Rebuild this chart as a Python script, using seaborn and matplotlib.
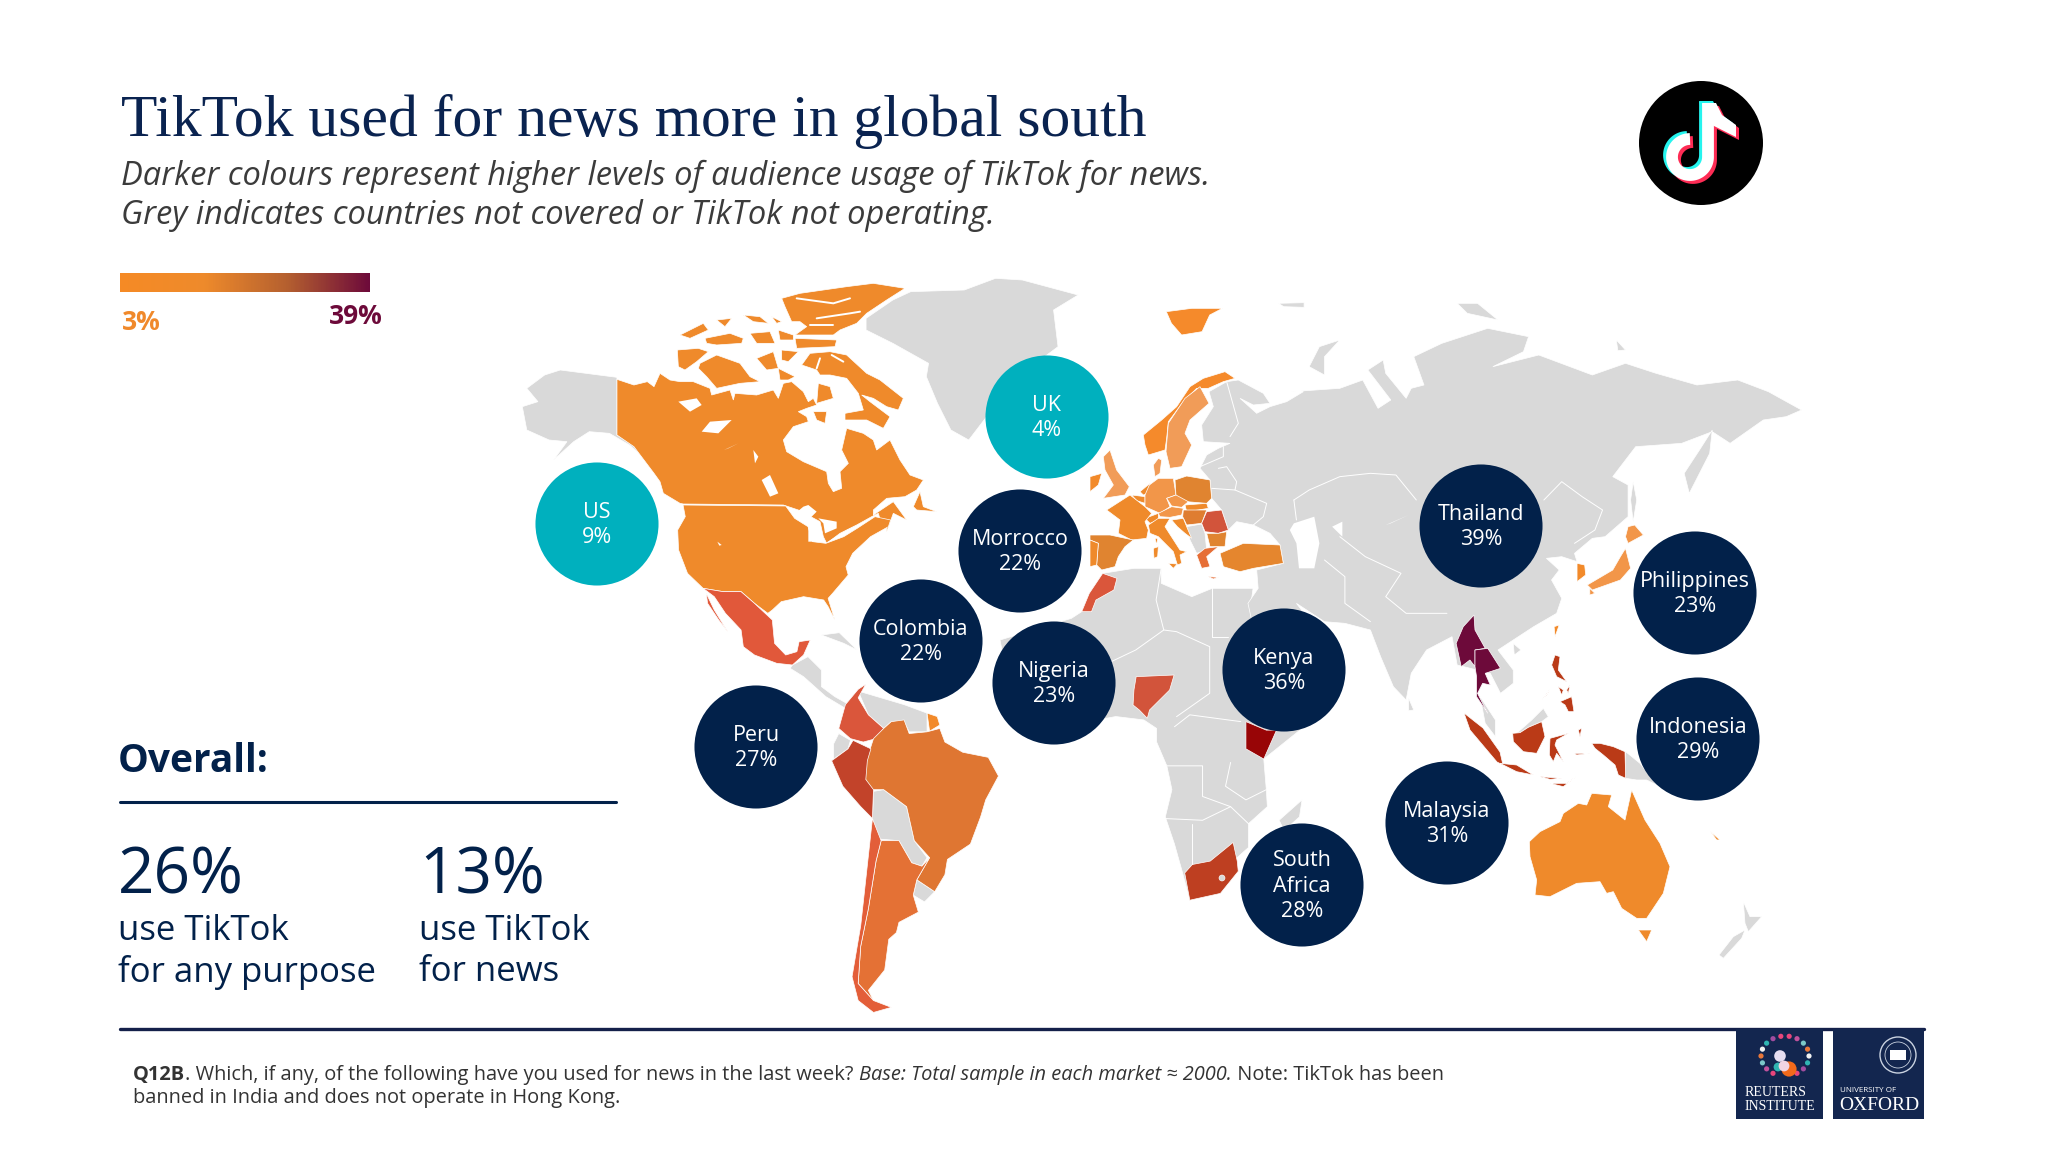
import matplotlib
matplotlib.use("Agg")
import matplotlib.pyplot as plt
from matplotlib.colors import LinearSegmentedColormap
from matplotlib.patches import Circle, Rectangle
import numpy as np
import pandas as pd
import seaborn as sns

sns.set_theme(style="white")
plt.rcParams["font.family"] = ["Open Sans", "DejaVu Sans"]

NAVY = "#02214A"
TEAL = "#00B0BE"
GREY = "#D9D9D9"

# labelled markets
markets = ["US", "UK", "Morrocco", "Colombia", "Nigeria", "Peru", "Kenya",
           "Thailand", "Philippines", "Indonesia", "Malaysia", "South\nAfrica"]
shares = [9, 4, 22, 22, 23, 27, 36, 39, 23, 29, 31, 28]
bubble_colour = [TEAL, TEAL] + [NAVY] * 10

# bubble layout in pixels
bubble_x = [597, 1047, 1020, 921, 1054, 756, 1284, 1481, 1695, 1698, 1447, 1302]
bubble_y = [524, 417, 551, 641, 683, 747, 670, 526, 593, 739, 823, 885]

# colour levels per country
map_levels = {
    "canada": 9, "usa": 9, "australia": 9, "mexico": 21, "colombia": 22, "peru": 27,
    "brazil": 14, "argentina": 16, "chile": 20, "guiana": 8, "morocco": 22, "nigeria": 23,
    "kenya": 36, "south_africa": 28, "thailand": 39, "indonesia": 29, "philippines": 29,
    "uk": 4, "ireland": 8, "france": 9, "germany": 5, "poland": 12, "spain": 12,
    "portugal": 9, "italy": 9, "norway": 7, "sweden": 4, "romania": 23, "bulgaria": 12,
    "greece": 17, "turkey": 11, "croatia": 9, "hungary": 13, "slovakia": 9, "czech": 5, "austria": 5,
    "switzerland": 9, "netherlands": 9, "belgium": 9, "denmark": 4, "japan": 5, "korea": 8, "taiwan": 8,
}
level_nodes = [3, 4, 7, 9, 12, 14, 17, 21, 23, 27, 29, 36, 39]
level_colours = ["#F19C58", "#F19C58", "#F58A2A", "#EF8A2B", "#E08430", "#DF7632", "#E66E36",
                 "#E2583A", "#D2543B", "#C2432A", "#BA3A17", "#990505", "#6D0A3A"]
level_map = LinearSegmentedColormap.from_list(
    "levels", [((n - 3) / 36, c) for n, c in zip(level_nodes, level_colours)])

# legend ramp
ramp_low, ramp_high = 3, 39
ramp_colours = ["#F58A25", "#EE8A2B", "#B5602F", "#6D0A3A"]


# the outlines were traced on crops of the slide, one converter per crop
def z1(pts):
    return [(500 + x / 2.24, 260 + y / 3) for x, y in pts]


def z2(pts):
    return [(1100 + x / 1.96, 260 + y / 3) for x, y in pts]


def z3(pts):
    return [(700 + x / 1.96, 640 + y / 2.94) for x, y in pts]


def z4(pts):
    return [(1500 + x / 3, 640 + y / 3) for x, y in pts]


def z5(pts):
    return [(1090 + x / 3, 370 + y / 3) for x, y in pts]


def z6(pts):
    return [(660 + x / 3, 280 + y / 3) for x, y in pts]


grey_land = [
    # Alaska
    z1([(60, 385), (100, 345), (135, 330), (262, 352), (262, 525), (290, 545), (340, 610), (350, 640),
        (320, 590), (290, 555), (245, 520), (200, 515), (165, 545), (120, 600), (150, 545), (110, 540),
        (60, 510), (50, 440), (85, 425)]),
    # Greenland
    z1([(820, 175), (880, 120), (920, 95), (1040, 90), (1110, 55), (1170, 60), (1295, 105), (1240, 150),
        (1250, 260), (1220, 290), (1150, 380), (1090, 470), (1050, 540), (1010, 510), (980, 430),
        (955, 350), (960, 310), (880, 250), (820, 210)]),
    # Central America and Caribbean
    z1([(655, 1215), (690, 1190), (720, 1230), (720, 1280), (750, 1310), (790, 1340), (780, 1350),
        (730, 1310), (680, 1250), (650, 1225)]),
    z1([(720, 1125), (760, 1118), (800, 1170), (770, 1150)]),
    # Africa
    z1([(1350, 940), (1420, 925), (1470, 925)]) +
    z2([(120, 925), (120, 970), (180, 1010), (220, 985), (300, 985), (295, 1040), (330, 1130)]) +
    [(1330, 650), (1340, 690), (1300, 730)] +
    z3([(1105, 350), (1110, 440), (1112, 490), (1075, 540), (1075, 610), (1045, 650), (1020, 745),
        (960, 765), (945, 680), (930, 600), (912, 520), (925, 440), (915, 370), (895, 300), (895, 260),
        (870, 235), (815, 225), (760, 240)]) +
    [(1010, 690), (1000, 640)] +
    z1([(1280, 1075), (1303, 1055)]),
    # Madagascar
    z3([(1180, 470), (1175, 520), (1145, 560), (1135, 530), (1165, 490)]),
    # Eurasia
    z5([(360, 330), (330, 295), (350, 255), (385, 235), (420, 220), (340, 215), (335, 165), (370, 110), (357, 65),
        (410, 35), (445, 30), (520, 70), (540, 100), (490, 105), (450, 85), (500, 130), (540, 110), (590, 95),
        (640, 65)]) +
    z2([(375, 395), (470, 385), (515, 360), (545, 445), (570, 420), (525, 330), (555, 300), (560, 340),
        (600, 415), (610, 385), (635, 375), (615, 290), (670, 250), (760, 205), (840, 230), (830, 275),
        (770, 320), (860, 285), (965, 345), (1030, 310), (1090, 340), (1170, 375), (1250, 360),
        (1310, 395), (1375, 450), (1345, 470), (1300, 480), (1235, 550), (1200, 515), (1140, 550),
        (1050, 560), (1005, 650), (1035, 675), (1035, 770), (990, 830), (965, 835), (930, 880),
        (935, 905), (905, 890), (875, 895), (900, 930), (885, 960), (905, 1015), (895, 1060),
        (850, 1100), (810, 1140), (780, 1170), (810, 1230), (810, 1270), (785, 1300), (765, 1240),
        (700, 1215), (690, 1130), (640, 1170), (610, 1240), (600, 1320), (575, 1280), (550, 1190),
        (530, 1110), (480, 1090), (440, 1085), (385, 1030), (420, 1100), (400, 1180), (330, 1230),
        (300, 1100), (290, 1030), (310, 985)]) +
    z5([(500, 600), (580, 580), (570, 525), (540, 490), (490, 465), (440, 455), (415, 480), (395, 420), (365, 385)]),
    # Balkans not covered
    z5([(290, 470), (335, 462), (345, 490), (350, 540), (320, 550), (300, 510)]),
    # Arctic and Pacific islands
    z2([(410, 320), (430, 260), (520, 215), (470, 240), (440, 290), (440, 345)]),
    z2([(700, 130), (740, 130), (780, 180), (720, 160)]),
    z2([(350, 130), (400, 128), (400, 142), (360, 140)]),
    z2([(1012, 240), (1030, 270), (1015, 272)]),
    z2([(1200, 510), (1195, 580), (1155, 700), (1145, 640), (1175, 570)]),
    z2([(1045, 665), (1052, 720), (1045, 785), (1040, 720)]),
    z2([(810, 1150), (825, 1170), (812, 1185)]),
    z2([(605, 1315), (615, 1350), (605, 1352)]),
    z2([(745, 1310), (775, 1380), (775, 1430), (755, 1390)]),
    # Malaysian Borneo, Papua New Guinea, New Zealand
    z4([(50, 280), (95, 240), (130, 205), (145, 230), (125, 245), (85, 262), (60, 278)]),
    z4([(377, 335), (420, 370), (470, 435), (440, 420), (410, 420), (377, 415)]),
    z4([(730, 785), (750, 830), (785, 830), (745, 875), (735, 850)]),
    z4([(735, 870), (725, 895), (670, 955), (657, 945), (700, 890)]),
    # South America
    z3([(310, 150), (400, 190), (445, 215), (445, 270), (410, 270), (400, 240), (375, 240), (360, 260),
        (330, 220)]),
    z3([(272, 275), (295, 295), (290, 320), (262, 350), (262, 305)]),
    z3([(340, 445), (360, 440), (405, 490), (420, 590), (445, 640), (435, 665), (415, 655), (390, 590),
        (350, 585), (338, 530)]),
    z3([(425, 705), (460, 740), (440, 770), (418, 750)]),
]

countries = {
    "canada": [
        z1([(262, 358), (300, 375), (330, 365), (345, 380)]) +
        z6([(0, 280), (30, 300), (60, 305), (100, 305), (150, 325), (155, 345), (210, 330), (220, 360), (225, 340),
            (290, 345), (340, 330), (355, 355), (370, 310), (395, 305), (430, 335), (445, 365), (460, 355), (470, 375),
            (440, 385), (415, 395), (440, 410), (445, 425), (400, 440), (370, 480), (380, 515), (430, 545), (500, 575),
            (505, 610), (520, 635), (545, 625), (540, 575), (565, 550), (545, 510), (560, 445), (610, 460), (640, 480),
            (650, 510), (690, 480), (720, 540), (750, 585), (790, 600), (770, 630), (735, 650), (680, 655), (640, 690),
            (640, 705), (700, 665), (740, 720), (700, 700), (680, 755), (680, 730), (665, 735), (655, 700), (635, 710),
            (590, 735), (540, 760), (500, 790), (490, 770), (480, 725), (415, 690), (370, 675), (70, 672), (60, 670),
            (10, 640), (0, 605)]) +
        z1([(345, 640), (300, 560), (262, 525)]),
        # Newfoundland
        z6([(780, 635), (790, 680), (830, 695), (770, 690), (760, 680)]),
        # Arctic archipelago
        z6([(365, 55), (420, 40), (560, 20), (640, 10), (735, 25), (680, 60), (620, 100), (590, 130), (540, 150),
            (520, 165), (405, 165), (440, 140), (420, 125), (395, 125), (375, 80)]),
        z6([(405, 175), (530, 180), (525, 200), (410, 205)]),
        z6([(52, 210), (115, 205), (145, 215), (110, 245), (75, 270), (55, 260)]),
        z6([(120, 250), (170, 225), (240, 250), (270, 290), (300, 305), (240, 310), (170, 325), (140, 290), (115, 265)]),
        z6([(60, 165), (130, 130), (145, 150), (90, 175)]),
        z6([(135, 175), (210, 160), (250, 175), (245, 190), (170, 195), (140, 190)]),
        z6([(170, 120), (215, 115), (195, 140)]),
        z6([(250, 105), (300, 110), (325, 130), (280, 125)]),
        z6([(270, 160), (330, 155), (345, 190), (290, 190)]),
        z6([(335, 110), (365, 125), (350, 130)]),
        z6([(355, 150), (400, 165), (400, 180), (360, 180)]),
        z6([(290, 235), (340, 215), (355, 265), (320, 270)]),
        z6([(365, 210), (415, 215), (385, 245), (365, 240)]),
        z6([(355, 265), (405, 290), (385, 300), (360, 300)]),
        z6([(425, 255), (450, 220), (510, 215), (560, 225), (620, 280), (660, 300), (730, 355), (715, 390), (680, 380),
            (640, 355), (605, 345), (630, 365), (690, 410), (670, 445), (620, 420), (555, 420), (555, 400), (610, 390),
            (595, 340), (560, 295), (510, 285), (480, 285), (470, 270)]),
        z6([(475, 310), (510, 320), (520, 355), (470, 370)]),
        z6([(460, 395), (500, 395), (495, 430), (470, 420)]),
    ],
    "usa": [z1([(410, 735), (640, 738), (660, 775), (690, 800), (700, 845), (730, 850), (770, 830), (800, 805),
                (840, 770), (875, 780), (870, 800), (830, 830), (790, 880), (775, 920), (780, 945), (745, 1000),
                (735, 1015), (750, 1080), (735, 1040), (725, 1020), (680, 1010), (630, 1025), (610, 1050),
                (600, 1060), (570, 1030), (540, 995), (500, 995), (455, 985), (420, 940), (400, 870),
                (398, 810), (415, 770)])],
    "mexico": [
        z1([(455, 985), (500, 995), (540, 995), (570, 1030), (610, 1080), (615, 1150), (640, 1185), (665, 1175),
            (670, 1145), (695, 1140), (680, 1185), (655, 1215), (620, 1210), (570, 1185), (545, 1160),
            (540, 1110), (505, 1060), (480, 1010)]),
        z1([(462, 1000), (480, 1050), (510, 1115), (490, 1080), (465, 1030)]),
    ],
    "colombia": [z3([(325, 130), (310, 170), (330, 220), (360, 260), (345, 290), (320, 300), (295, 290),
                     (272, 260), (285, 190), (310, 145)])],
    "guiana": [z3([(445, 215), (465, 225), (470, 250), (450, 268)])],
    "brazil": [z3([(375, 240), (400, 235), (410, 275), (445, 270), (470, 260), (480, 300), (515, 330), (565, 345),
                   (585, 400), (560, 470), (550, 520), (530, 600), (485, 645), (480, 690), (460, 740), (425, 705),
                   (450, 640), (420, 590), (405, 490), (360, 440), (328, 440), (325, 410), (305, 390), (325, 360),
                   (340, 290), (360, 260)])],
    "peru": [z3([(258, 355), (290, 320), (300, 295), (335, 320), (328, 355), (325, 410), (340, 440), (338, 525),
                 (315, 490), (280, 430)])],
    "argentina": [z3([(355, 590), (390, 590), (415, 655), (435, 665), (450, 640), (425, 705), (418, 750), (428, 800),
                      (390, 830), (385, 860), (370, 880), (362, 970), (330, 1030), (340, 1060), (310, 1010),
                      (315, 900), (330, 790), (345, 650)])],
    "chile": [z3([(338, 525), (355, 590), (345, 650), (330, 790), (315, 900), (310, 1010), (340, 1060), (375, 1080),
                  (340, 1095), (310, 1060), (298, 990), (315, 840)])],
    "morocco": [z1([(1350, 940), (1382, 955), (1375, 990), (1335, 1020), (1325, 1055), (1303, 1055), (1320, 1000)])],
    "nigeria": [z1([(1425, 1250), (1510, 1245), (1500, 1290), (1470, 1330), (1455, 1350), (1450, 1375), (1432, 1350),
                    (1418, 1335), (1420, 1290)])],
    "kenya": [z3([(1070, 240), (1110, 265), (1130, 265), (1105, 350), (1070, 320)])],
    "south_africa": [z3([(950, 685), (965, 660), (1000, 650), (1045, 595), (1053, 650), (1055, 680), (1020, 745),
                         (960, 765)])],
    "norway": [
        z5([(160, 195), (215, 150), (260, 110), (300, 50), (340, 25), (405, 5), (435, 25), (400, 35), (355, 55), (320, 55),
            (280, 95), (235, 155), (230, 205), (225, 240), (175, 255), (165, 225)]),
        z2([(130, 155), (180, 145), (240, 145), (215, 165), (200, 215), (160, 225), (140, 190)]),
    ],
    "sweden": [z5([(235, 160), (285, 85), (330, 50), (357, 100), (300, 150), (285, 190), (305, 225), (275, 290),
                   (240, 295), (228, 245)])],
    "denmark": [z5([(205, 265), (215, 270), (210, 310), (195, 320), (190, 285)])],
    "uk": [z5([(40, 260), (60, 240), (80, 300), (118, 350), (105, 375), (40, 385), (70, 345), (45, 300)])],
    "ireland": [z5([(0, 320), (35, 310), (25, 345), (0, 365)])],
    "netherlands": [z5([(150, 365), (180, 340), (175, 370), (160, 375)])],
    "belgium": [z5([(125, 375), (165, 380), (165, 400), (140, 392)])],
    "germany": [z5([(178, 345), (205, 325), (250, 325), (258, 375), (230, 385), (240, 410), (210, 430), (165, 410),
                    (165, 375)])],
    "poland": [z5([(255, 330), (290, 318), (360, 330), (365, 385), (350, 400), (290, 395), (258, 378)])],
    "czech": [z5([(230, 385), (258, 375), (295, 395), (275, 412), (245, 408)])],
    "slovakia": [z5([(285, 405), (350, 400), (355, 415), (325, 420), (290, 425)])],
    "austria": [z5([(205, 430), (245, 410), (280, 415), (275, 435), (240, 442), (210, 440)])],
    "hungary": [z5([(280, 420), (325, 420), (350, 420), (335, 460), (290, 465), (278, 440)])],
    "switzerland": [z5([(165, 445), (205, 430), (205, 450), (180, 460)])],
    "france": [
        z5([(50, 420), (120, 375), (165, 410), (185, 430), (165, 455), (175, 480), (170, 505), (125, 510), (85, 490),
            (90, 450)]),
        z5([(195, 505), (203, 505), (200, 525)]),
    ],
    "italy": [
        z5([(175, 465), (205, 445), (240, 445), (225, 470), (270, 540), (290, 545), (270, 555), (275, 580), (262, 585),
            (250, 545), (205, 500), (180, 490)]),
        z5([(235, 580), (262, 582), (250, 595)]),
        z5([(190, 535), (205, 530), (203, 560), (192, 565)]),
    ],
    "croatia": [z5([(245, 450), (280, 445), (290, 470), (305, 505), (285, 490), (262, 470)])],
    "romania": [z5([(335, 460), (350, 425), (395, 420), (415, 480), (385, 490), (345, 485)])],
    "bulgaria": [z5([(350, 490), (385, 490), (410, 485), (405, 530), (360, 530)])],
    "greece": [
        z5([(320, 555), (345, 535), (385, 530), (350, 560), (360, 590), (335, 595)]),
        z5([(355, 620), (385, 622), (370, 627)]),
    ],
    "turkey": [z5([(390, 550), (460, 520), (570, 525), (580, 580), (490, 595), (450, 605), (400, 590)])],
    "spain": [z5([(0, 495), (60, 495), (130, 510), (105, 530), (85, 560), (75, 590), (35, 600), (20, 585), (25, 520),
                  (0, 510)])],
    "portugal": [z5([(0, 510), (25, 520), (20, 585), (0, 590)])],
    "korea": [z2([(935, 910), (950, 915), (952, 945), (935, 965)])],
    "japan": [
        z2([(1035, 800), (1048, 795), (1065, 825), (1035, 850), (1030, 830)]),
        z2([(1030, 865), (1040, 925), (1020, 960), (965, 990), (955, 975), (1005, 930), (1020, 890)]),
        z2([(960, 985), (970, 1000), (960, 1005)]),
    ],
    "taiwan": [z2([(890, 1100), (900, 1095), (892, 1130)])],
    "thailand": [
        z2([(733, 1065), (735, 1110), (755, 1165), (735, 1170), (735, 1220), (725, 1200), (708, 1220), (698, 1150),
            (712, 1100)]),
        z2([(735, 1170), (760, 1165), (785, 1225), (755, 1240), (765, 1275), (750, 1270), (740, 1300), (760, 1360),
            (738, 1310), (738, 1250), (735, 1220)]),
    ],
    "philippines": [
        z4([(165, 45), (180, 50), (175, 90), (200, 125), (170, 110), (155, 75)]),
        z4([(180, 185), (215, 170), (222, 215), (205, 215), (195, 195)]),
        z4([(175, 140), (190, 150), (185, 165)]),
        z4([(200, 150), (210, 135), (205, 160)]),
        z4([(128, 178), (150, 148), (140, 165)]),
    ],
    "indonesia": [
        z4([(38, 280), (60, 278), (85, 262), (125, 245), (135, 290), (110, 340), (70, 335), (40, 305)]),
        z4([(150, 295), (205, 280), (170, 300), (165, 315), (190, 365), (170, 340), (160, 365), (148, 345)]),
        [(1464, 713), (1483, 728), (1500, 752), (1503, 765), (1497, 762), (1470, 730)],
        z4([(0, 370), (50, 375), (100, 405), (50, 395)]),
        z4([(120, 410), (185, 415), (150, 418)]),
        z4([(150, 430), (190, 440), (228, 410), (200, 430)]),
        z4([(275, 310), (300, 310), (340, 320), (375, 335), (377, 415), (355, 405), (345, 375), (310, 345), (285, 325)]),
        z4([(235, 270), (245, 265), (240, 290)]),
        z4([(222, 340), (270, 340), (230, 345)]),
    ],
    "australia": [
        z4([(88, 605), (120, 575), (180, 545), (190, 520), (235, 490), (260, 495), (275, 460), (335, 465), (325, 500),
            (375, 540), (395, 450), (435, 540), (480, 610), (510, 680), (490, 760), (440, 835), (410, 835),
            (365, 805), (340, 755), (320, 760), (300, 725), (230, 730), (150, 770), (105, 765), (110, 720), (90, 650)]),
        z4([(415, 870), (455, 870), (440, 905)]),
        z4([(632, 575), (660, 600), (650, 600)]),
    ],
}

water = [
    # Canadian and US lakes
    z6([(400, 705), (430, 680), (445, 675), (470, 695), (450, 715), (420, 705)]),
    z6([(445, 720), (470, 725), (465, 785), (445, 785)]),
    z6([(475, 715), (530, 725), (530, 745), (495, 760), (490, 730)]),
    z6([(495, 790), (545, 760), (590, 735), (560, 750), (520, 780)]),
    z6([(305, 600), (330, 585), (355, 640), (330, 650)]),
    z6([(55, 365), (110, 355), (125, 375), (90, 395)]),
    z6([(125, 455), (150, 425), (215, 420), (175, 460)]),
    z6([(192, 510), (235, 490), (205, 505)]),
    z6([(280, 510), (295, 530), (285, 550)]),
    z6([(172, 785), (185, 795), (178, 797)]),
    # Caspian, Aral, Balkhash
    z2([(380, 790), (420, 770), (430, 850), (420, 925), (390, 925), (385, 850), (372, 810)]),
    z2([(455, 800), (475, 785), (475, 830)]),
    z2([(560, 795), (605, 765), (570, 790)]),
]

# narrow sounds cut through the arctic islands
channels = [
    z6([(410, 55), (520, 70), (570, 55)]),
    z6([(470, 115), (570, 100), (600, 95)]),
    z6([(450, 135), (520, 135)]),
    z6([(480, 235), (470, 265)]),
    z6([(515, 225), (550, 245)]),
]

borders = [
    z2([(380, 720), (410, 690), (470, 650), (530, 640), (580, 645), (620, 720)]),
    z2([(380, 720), (385, 780)]),
    z2([(470, 830), (520, 890), (590, 940), (560, 1010), (600, 1060), (680, 1060)]),
    z2([(440, 900), (480, 950), (480, 1030), (530, 1085)]),
    z2([(870, 720), (905, 665), (945, 710), (985, 750), (970, 810), (930, 850)]),
    z5([(410, 35), (445, 160), (420, 200)]),
    z5([(330, 290), (400, 260), (400, 230)]),
    z5([(385, 295), (410, 290), (440, 335), (435, 360), (365, 355)]),
    z5([(435, 360), (530, 400), (520, 440), (490, 465)]),
    z2([(120, 925), (110, 1020), (125, 1110), (70, 1170), (15, 1210)]),
    z2([(125, 1110), (150, 1115), (215, 1160), (215, 1300), (150, 1370)]),
    z2([(220, 985), (220, 1130), (250, 1130)]),
    z3([(915, 370), (985, 370), (985, 460), (1040, 490), (1075, 540)]),
    z3([(912, 525), (985, 530), (1040, 490)]),
    z3([(965, 540), (965, 660)]),
    z3([(930, 255), (960, 220), (1060, 240)]),
    z3([(1040, 360), (1030, 430), (1070, 470), (1110, 440)]),
]

fig = plt.figure(figsize=(20.48, 11.52), dpi=100, facecolor="white")
ax = fig.add_axes([0, 0, 1, 1])
ax.set_xlim(0, 2048)
ax.set_ylim(1152, 0)
ax.set_autoscale_on(False)
ax.axis("off")


def draw_shape(pts, colour, zorder):
    xs, ys = zip(*pts)
    ax.fill(xs, ys, facecolor=colour, edgecolor="white", linewidth=0.5, zorder=zorder)


for shape in grey_land:
    draw_shape(shape, GREY, 2)
for name, shapes in countries.items():
    colour = level_map((map_levels[name] - 3) / 36)
    for shape in shapes:
        draw_shape(shape, colour, 3)
for shape in water:
    xs, ys = zip(*shape)
    ax.fill(xs, ys, facecolor="white", edgecolor="none", zorder=4)
for line in borders:
    xs, ys = zip(*line)
    ax.plot(xs, ys, color="white", lw=0.7, zorder=4)
for line in channels:
    xs, ys = zip(*line)
    ax.plot(xs, ys, color="white", lw=1.4, zorder=4)
# Lesotho
ax.add_patch(Circle((1222, 878), 3, facecolor=GREY, edgecolor="white", lw=0.4, zorder=4))

# bubbles
bubbles = pd.DataFrame({"x": bubble_x, "y": bubble_y, "market": markets, "colour": bubble_colour})
sns.scatterplot(data=bubbles, x="x", y="y", hue="colour", palette={TEAL: TEAL, NAVY: NAVY}, s=7850,
                linewidth=0, legend=False, ax=ax, zorder=6)
ax.set_xlabel("")
ax.set_ylabel("")
for name, share, x, y in zip(markets, shares, bubble_x, bubble_y):
    ax.text(x, y + 1, f"{name}\n{share}%", color="white", fontsize=15.5, ha="center", va="center",
            linespacing=1.3, zorder=7)

# header
ax.text(121, 136, "TikTok used for news more in global south", family="Liberation Serif",
        fontsize=42.9, color="#0A2350", va="baseline")
ax.text(121, 185, "Darker colours represent higher levels of audience usage of TikTok for news.",
        fontsize=23.5, style="italic", color="#3B3B3B", va="baseline")
ax.text(121, 224, "Grey indicates countries not covered or TikTok not operating.",
        fontsize=23.5, style="italic", color="#3B3B3B", va="baseline")

# legend ramp
ramp_ax = fig.add_axes([120 / 2048, 1 - 292 / 1152, 250 / 2048, 19 / 1152])
ramp_map = LinearSegmentedColormap.from_list("ramp", ramp_colours)
sns.heatmap(np.linspace(ramp_low, ramp_high, 200).reshape(1, -1), cmap=ramp_map, cbar=False,
            xticklabels=False, yticklabels=False, ax=ramp_ax)
ax.text(122, 322, f"{ramp_low}%", fontsize=19, fontweight="bold", color="#F0892B", va="center")
ax.text(383, 317, f"{ramp_high}%", fontsize=19, fontweight="bold", color="#6D0A3A", va="center", ha="right")

# overall figures
ax.text(118, 761, "Overall:", fontsize=28, fontweight="bold", color=NAVY, va="center")
ax.plot([120, 616], [802, 802], color=NAVY, lw=2.2)
ax.text(118, 876, "26%", fontsize=46, color=NAVY, va="center")
ax.text(419, 876, "13%", fontsize=46, color=NAVY, va="center")
ax.text(118, 931, "use TikTok", fontsize=25, color=NAVY, va="center")
ax.text(118, 972, "for any purpose", fontsize=25, color=NAVY, va="center")
ax.text(419, 931, "use TikTok", fontsize=25, color=NAVY, va="center")
ax.text(419, 972, "for news", fontsize=25, color=NAVY, va="center")

# footer
ax.plot([120, 1924], [1029, 1029], color="#14204A", lw=2.4)
renderer = fig.canvas.get_renderer()
cursor = 133
for part, kwargs in [("Q12B", {"fontweight": "bold"}),
                     (". Which, if any, of the following have you used for news in the last week? ", {}),
                     ("Base: Total sample in each market ≈ 2000.", {"style": "italic"}),
                     (" Note: TikTok has been", {})]:
    piece = ax.text(cursor, 1075, part.replace(" ", "\u00a0"), fontsize=14.4, color="#333333", va="center", **kwargs)
    cursor = piece.get_window_extent(renderer).x1
ax.text(133, 1098, "banned in India and does not operate in Hong Kong.", fontsize=14.4, color="#333333", va="center")

# TikTok mark
ax.add_patch(Circle((1701, 143), 62, facecolor="black", edgecolor="none", zorder=5))
theta = np.radians(np.linspace(0, 270, 60))
for dx, dy, colour in [(-3, -2, "#25F4EE"), (3, 3, "#FE2C55"), (0, 0, "white")]:
    arc_x = 1690 + 18 * np.cos(theta) + dx
    arc_y = 157 + 18 * np.sin(theta) + dy
    ax.plot(np.r_[1708 + dx, arc_x], np.r_[104 + dy, arc_y], color=colour, lw=8.5, zorder=6,
            solid_capstyle="butt")
    ax.fill(np.array([1702, 1716, 1722, 1736, 1736, 1722, 1706]) + dx,
            np.array([103, 103, 115, 125, 137, 130, 122]) + dy, color=colour, lw=0, zorder=6)

# logos
for left, width in [(1736, 87), (1833, 91)]:
    ax.add_patch(Rectangle((left, 1029), width, 90, facecolor="#13264F", edgecolor="none", zorder=5))
ax.text(1745, 1092, "REUTERS", family="Liberation Serif", fontsize=10, color="white", va="center", zorder=6)
ax.text(1745, 1106, "INSTITUTE", family="Liberation Serif", fontsize=10, color="white", va="center", zorder=6)
ax.text(1840, 1091, "UNIVERSITY OF", fontsize=5.8, color="white", va="center", zorder=6)
ax.text(1839, 1105, "OXFORD", family="Liberation Serif", fontsize=14, color="white", va="center", zorder=6)
ax.add_patch(Circle((1898, 1055), 18, facecolor="none", edgecolor="#C9D2E0", lw=1, zorder=6))
ax.add_patch(Circle((1898, 1055), 13, facecolor="none", edgecolor="#C9D2E0", lw=0.6, zorder=6))
ax.add_patch(Rectangle((1890, 1050), 16, 10, facecolor="white", edgecolor="none", zorder=6))
ring = np.radians(np.linspace(-60, 240, 16))
ring_colours = ["#E8467C", "#A14DA0", "#2FB5B2", "#F2F2F2", "#E8773A", "#7BC8C8", "#C0529C", "#E8467C"] * 2
ax.scatter(1785 + 24 * np.cos(ring), 1056 - 20 * np.sin(ring), s=14, c=ring_colours, linewidths=0, zorder=6)
ax.scatter([1789, 1778, 1780, 1784], [1069, 1067, 1056, 1066], s=[120, 40, 70, 60],
           c=["#F26A1B", "#2FB5B2", "#E6DDF0", "#F2D5E2"], linewidths=0, zorder=7)

fig.savefig("out.png", dpi=100, facecolor="white")
